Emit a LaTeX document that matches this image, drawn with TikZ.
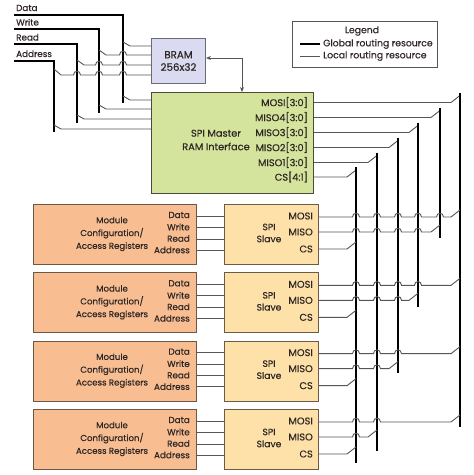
\documentclass[tikz,border=0pt]{standalone}
\usepackage{fontspec}
\setmainfont{Poppins}[FakeBold=0.35]
\usetikzlibrary{calc,arrows.meta}
\definecolor{txt}{HTML}{2E2624}
\definecolor{bramfill}{HTML}{DADBF0}
\definecolor{bramdraw}{HTML}{6A6A78}
\definecolor{mstfill}{HTML}{D4E49C}
\definecolor{mstdraw}{HTML}{4A4A3A}
\definecolor{modfill}{HTML}{F8BE92}
\definecolor{moddraw}{HTML}{6B5848}
\definecolor{slvfill}{HTML}{FDE1A9}
\definecolor{slvdraw}{HTML}{6B5C48}
\definecolor{locc}{HTML}{555555}
\begin{document}
\begin{tikzpicture}[x=1pt,y=-1pt,
  font=\fontsize{8.8}{11.5}\selectfont, text=txt,
  glob/.style={line width=2pt, black},
  loc/.style={line width=0.9pt, locc},
  blk/.style={line width=1pt, inner sep=0pt, anchor=north west, align=center},
  lbl/.style={inner sep=0pt, anchor=east},
  big/.style={font=\fontsize{9.8}{13.5}\selectfont}]
\useasboundingbox (0,0) rectangle (474,475);

% ---------- global inputs ----------
\node[inner sep=0pt, anchor=base west] (ldata) at (16,11) {Data};
\node[inner sep=0pt, anchor=base west] (lwrite) at (16,25.5) {Write};
\node[inner sep=0pt, anchor=base west] (lread) at (16,40.5) {Read};
\node[inner sep=0pt, anchor=base west] (laddr) at (16,57) {Address};
\coordinate (gd) at (14,15);
\coordinate (gw) at (14,29);
\coordinate (gr) at (14,44);
\coordinate (ga) at (14,61);

% ---------- boxes ----------
\node[blk, fill=bramfill, draw=bramdraw, minimum width=54pt, minimum height=45pt, font=\fontsize{10.3}{12.5}\selectfont] (bram) at (151,38) {BRAM\\256x32};
\node[blk, fill=mstfill, draw=mstdraw, minimum width=162pt, minimum height=101pt] (mst) at (151,92) {};
\node[align=center, inner sep=0pt, big] (mstt) at (216,140) {SPI Master\\RAM Interface};
\foreach \n/\t/\y in {mo/MOSI[3:0]/102.5, m4/MISO4[3:0]/117.5, m3/MISO3[3:0]/132.5, m2/MISO2[3:0]/147.5, m1/MISO1[3:0]/162.5, cs/CS[4:1]/177}
  \node[lbl, big] (l\n) at (308,\y) {\t};

% legend
\node[draw=locc, line width=0.9pt, anchor=north west, minimum width=145pt, minimum height=46pt, inner sep=0pt] (leg) at (292,21) {};
\node[inner sep=0pt, font=\fontsize{9.3}{11}\selectfont] (legt) at (362,31) {Legend};
\coordinate (lg1) at (300,44);
\coordinate (lg2) at (300,56);
\node[inner sep=0pt, anchor=west, font=\fontsize{9.3}{11}\selectfont] (legg) at (323,44) {Global routing resource};
\node[inner sep=0pt, anchor=west, font=\fontsize{9.3}{11}\selectfont] (legl) at (323,56) {Local routing resource};
\draw[glob] (lg1) -- (legg.west -| 320,0);
\draw[loc] (lg2) -- (legl.west -| 320,0);

% global trunks
\draw[glob] (gd) -- (123,15) -- (123,103);
\draw[glob] (gw) -- (99,29) -- (99,113);
\draw[glob] (gr) -- (77,44) -- (77,123);
\draw[glob] (ga) -- (54,61) -- (54,132);

% branches to BRAM
\draw[loc] (123,42) -- (130,46) -- (bram.west |- 0,46);
\draw[loc] (99,50) -- (106,55) \foreach \h in {123} {-- (\h-3.5,55) .. controls (\h-3.5,50) and (\h+3.5,50) .. (\h+3.5,55)} -- (bram.west |- 0,55);
\draw[loc] (77,60) -- (84,65) \foreach \h in {99,123} {-- (\h-3.5,65) .. controls (\h-3.5,60) and (\h+3.5,60) .. (\h+3.5,65)} -- (bram.west |- 0,65);
\draw[loc] (54,69) -- (61,75) \foreach \h in {77,99,123} {-- (\h-3.5,75) .. controls (\h-3.5,70) and (\h+3.5,70) .. (\h+3.5,75)} -- (bram.west |- 0,75);

% branches to master
\draw[loc] (123,96) -- (130,100) -- (mst.west |- 0,100);
\draw[loc] (99,105) -- (106,109) -- (mst.west |- 0,109);
\draw[loc] (77,115) -- (84,119) -- (mst.west |- 0,119);
\draw[loc] (54,125) -- (61,129) -- (mst.west |- 0,129);

% BRAM <-> master
\draw[loc, {Stealth[length=5pt,width=4pt]}-{Stealth[length=5pt,width=4pt]}] (bram.east |- 0,58) -| (mst.north -| 242,0);

% master outputs to buses
\foreach \n/\x/\y/\b in {mo/460/102.5/427, m4/440/117.5/238, m3/418/132.5/307, m2/398/147.5/373, m1/377/162.5/451, cs/356/177/463} {
  \draw[loc] (mst.east |- 0,\y) -- (\x-9,\y) -- (\x,\y-7);
  \draw[glob] (\x,\y-10) -- (\x,\b);
}

% ---------- rows ----------
\foreach \i/\mos/\mis/\tg in {1/{356,377,398,418,440}/{356,377,398,418}/440,
                              2/{356,377,398,418}/{356,377,398}/418,
                              3/{356,377,398}/{356,377}/398,
                              4/{356,377}/{356}/377} {
  \pgfmathsetmacro\T{204+(\i-1)*68.33}
  \node[blk, fill=modfill, draw=moddraw, minimum width=163pt, minimum height=60pt] (mod\i) at (33,\T) {};
  \node[align=center, inner sep=0pt, font=\fontsize{8.6}{12.8}\selectfont] (modt\i) at (112,\T+30) {Module\\Configuration/\\Access Registers};
  \node[lbl] (md\i) at (190,\T+11) {Data};
  \node[lbl] (mw\i) at (190,\T+23) {Write};
  \node[lbl] (mr\i) at (190,\T+34.5) {Read};
  \node[lbl] (ma\i) at (190,\T+46) {Address};
  \node[blk, fill=slvfill, draw=slvdraw, minimum width=94pt, minimum height=60pt] (slv\i) at (224,\T) {};
  \node[align=center, inner sep=0pt, font=\fontsize{9.2}{12}\selectfont] (slvt\i) at (269,\T+29) {SPI\\Slave};
  \node[lbl, big] (smo\i) at (313,\T+12) {MOSI};
  \node[lbl, big] (smi\i) at (313,\T+28) {MISO};
  \node[lbl, big] (scs\i) at (313,\T+45) {CS};
  \foreach \dy in {12,23.5,35,46}
    \draw[loc] (mod\i.east |- 0,\T+\dy) -- (slv\i.west |- 0,\T+\dy);
  \pgfmathsetmacro\ya{\T+13}
  \pgfmathsetmacro\yb{\T+28}
  \pgfmathsetmacro\yc{\T+45}
  \draw[loc] (slv\i.east |- 0,\ya) \foreach \h in \mos {-- (\h-3.5,\ya) .. controls (\h-3.5,\ya-5) and (\h+3.5,\ya-5) .. (\h+3.5,\ya)} -- (451,\ya) -- (460,\ya-7);
  \draw[loc] (slv\i.east |- 0,\yb) \foreach \h in \mis {-- (\h-3.5,\yb) .. controls (\h-3.5,\yb-5) and (\h+3.5,\yb-5) .. (\h+3.5,\yb)} -- (\tg-9,\yb) -- (\tg,\yb-7);
  \draw[loc] (slv\i.east |- 0,\yc) -- (347,\yc) -- (356,\yc-7);
}
\end{tikzpicture}
\end{document}
